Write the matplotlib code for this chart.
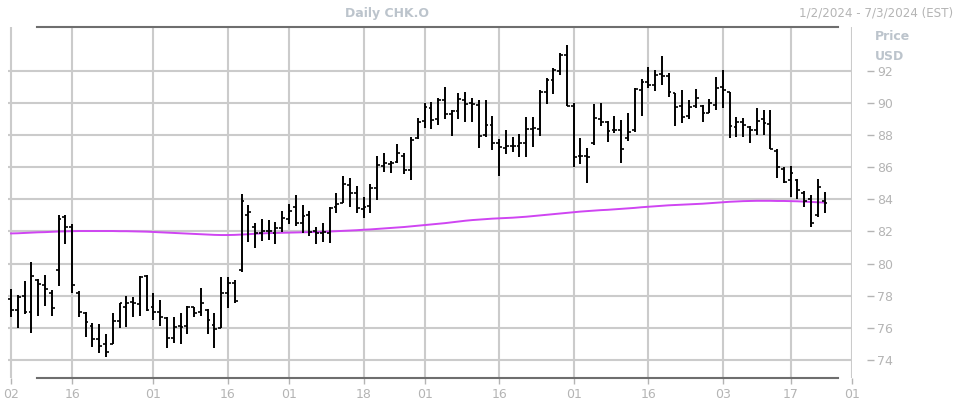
import numpy as np
import pandas as pd
import matplotlib
matplotlib.use('Agg')
import matplotlib.pyplot as plt

plt.rcParams['font.family'] = 'DejaVu Sans'

# trading calendar (NYSE holidays removed)
holidays = ['2024-01-15', '2024-02-19', '2024-03-29', '2024-05-27', '2024-06-19']
tick_dates = ['2024-01-02', '2024-01-16', '2024-02-01', '2024-02-16', '2024-03-01',
              '2024-03-18', '2024-04-01', '2024-04-16', '2024-05-01', '2024-05-16',
              '2024-06-03', '2024-06-17', '2024-07-01']
price_ticks = [74, 76, 78, 80, 82, 84, 86, 88, 90, 92]

# daily OHLC, CHK.O
open_ = [77.8, 77.1, 78.0, 77.0, 79.0, 78.7, 78.2, 79.6, 82.9, 82.3,
         78.2, 76.9, 76.1, 75.3, 75.0, 75.0, 76.4, 77.3, 77.6, 77.5,
         79.2, 77.3, 77.0, 76.6, 75.4, 76.1, 76.1, 77.3, 77.0, 77.1,
         76.2, 76.0, 78.2, 78.8, 79.6, 83.0, 82.3, 81.9, 82.0, 81.9,
         82.2, 82.8, 83.5, 82.5, 83.0, 82.0, 81.9, 81.9, 83.5, 83.8,
         84.9, 84.4, 83.4, 83.6, 84.7, 86.1, 86.2, 86.3, 86.7, 85.8,
         87.8, 88.9, 89.7, 89.0, 90.2, 89.3, 89.5, 90.2, 90.0, 89.9,
         88.0, 88.6, 87.5, 87.2, 87.3, 87.3, 87.5, 88.4, 88.4, 90.7,
         91.4, 92.0, 93.0, 89.8, 86.7, 86.7, 87.5, 89.0, 88.8, 88.3,
         88.3, 87.8, 88.3, 90.8, 91.3, 91.1, 91.8, 91.7, 90.6, 89.8,
         89.2, 89.8, 89.8, 89.4, 89.9, 91.0, 90.7, 88.5, 88.8, 88.5,
         88.3, 89.0, 88.7, 87.0, 85.9, 85.2, 85.2, 84.4, 84.0, 83.0,
         83.9]
high = [78.40, 78.05, 78.94, 80.08, 79.04, 79.29, 78.36, 83.03, 83.03, 82.45,
        78.32, 77.01, 76.28, 76.24, 75.60, 76.91, 77.57, 77.99, 77.94, 79.23,
        79.29, 78.15, 77.74, 76.70, 76.70, 76.91, 77.36, 77.32, 78.50, 77.15,
        76.91, 79.15, 79.15, 78.98, 84.34, 83.65, 82.51, 82.76, 82.72, 82.57,
        83.30, 83.73, 84.27, 83.62, 83.29, 82.26, 82.51, 83.55, 84.42, 85.48,
        85.35, 84.83, 84.17, 84.96, 86.70, 86.91, 86.39, 87.43, 86.91, 87.91,
        89.05, 90.02, 90.09, 90.29, 91.02, 89.57, 90.60, 90.71, 90.29, 90.19,
        90.19, 89.19, 87.74, 88.32, 87.91, 88.07, 89.15, 89.11, 90.81, 91.54,
        92.16, 93.10, 93.61, 89.98, 87.80, 87.18, 89.94, 90.02, 88.90, 89.19,
        88.94, 89.36, 90.92, 91.48, 92.26, 92.06, 92.93, 91.89, 90.60, 90.81,
        90.19, 90.85, 89.88, 90.23, 91.64, 92.06, 90.71, 89.15, 89.05, 88.57,
        89.67, 89.57, 89.57, 87.12, 86.00, 86.08, 85.25, 84.50, 84.27, 85.25,
        84.48]
low = [76.66, 75.97, 76.86, 75.70, 76.76, 77.36, 76.76, 78.63, 81.20, 78.19,
       76.70, 75.45, 74.83, 74.46, 74.21, 74.98, 75.97, 76.08, 76.70, 76.74,
       77.05, 76.49, 76.14, 74.73, 75.04, 74.98, 75.60, 76.70, 76.74, 75.60,
       74.73, 75.97, 77.22, 77.57, 79.50, 81.37, 80.95, 81.41, 81.47, 81.20,
       81.99, 82.44, 82.37, 81.92, 81.70, 81.22, 81.37, 81.26, 83.13, 83.76,
       83.55, 83.13, 82.82, 83.13, 83.96, 85.73, 85.62, 86.25, 85.56, 85.21,
       87.74, 88.42, 88.36, 88.63, 88.99, 87.95, 88.99, 88.84, 88.84, 87.18,
       87.91, 87.08, 85.46, 86.81, 86.97, 86.62, 86.62, 87.24, 87.95, 89.94,
       90.54, 91.75, 89.82, 86.00, 86.20, 85.00, 87.39, 88.57, 87.59, 88.11,
       86.25, 87.66, 88.22, 89.19, 90.96, 90.77, 91.12, 90.40, 88.57, 88.78,
       88.99, 89.67, 88.84, 89.40, 89.57, 89.67, 87.84, 87.91, 87.91, 87.49,
       88.01, 88.01, 87.12, 85.31, 85.00, 84.13, 84.00, 83.50, 82.30, 82.92,
       83.17]
close = [77.11, 77.95, 77.00, 79.20, 78.73, 78.40, 77.26, 82.80, 82.30, 78.67,
         77.01, 76.35, 75.30, 74.90, 74.50, 76.45, 77.53, 77.55, 77.53, 79.15,
         77.11, 77.01, 76.66, 75.35, 76.08, 76.08, 77.32, 76.91, 77.53, 76.49,
         75.93, 78.15, 78.80, 77.69, 83.92, 83.24, 81.89, 82.00, 82.00, 82.20,
         82.82, 83.30, 82.51, 82.95, 81.95, 81.89, 81.99, 83.49, 83.71, 84.96,
         84.42, 83.44, 83.55, 84.69, 86.14, 86.29, 86.25, 86.87, 85.83, 87.70,
         88.84, 89.75, 88.94, 90.20, 89.32, 89.50, 90.23, 89.94, 89.95, 87.97,
         88.60, 87.49, 87.24, 87.30, 87.32, 87.53, 88.36, 88.45, 90.71, 91.43,
         92.06, 92.99, 89.82, 86.66, 86.70, 86.62, 89.05, 88.84, 88.28, 88.32,
         87.12, 88.22, 90.85, 91.30, 91.12, 91.75, 91.68, 90.71, 89.77, 89.15,
         89.77, 90.29, 89.36, 89.98, 90.92, 90.80, 88.57, 88.84, 88.63, 88.32,
         88.90, 88.74, 87.12, 86.04, 85.10, 85.62, 84.59, 83.90, 82.51, 84.80,
         83.80]
# moving average (magenta line)
ma = [81.88, 81.89, 81.91, 81.93, 81.95, 81.96, 81.98, 82.00, 82.01, 82.02,
      82.03, 82.03, 82.03, 82.03, 82.03, 82.03, 82.02, 82.02, 82.01, 82.00,
      81.99, 81.97, 81.95, 81.93, 81.91, 81.89, 81.87, 81.85, 81.83, 81.81,
      81.79, 81.78, 81.78, 81.79, 81.81, 81.83, 81.86, 81.88, 81.90, 81.91,
      81.92, 81.93, 81.94, 81.95, 81.96, 81.97, 81.98, 82.00, 82.02, 82.04,
      82.06, 82.08, 82.11, 82.13, 82.16, 82.19, 82.22, 82.25, 82.28, 82.32,
      82.36, 82.40, 82.44, 82.48, 82.52, 82.57, 82.62, 82.67, 82.71, 82.74,
      82.77, 82.80, 82.82, 82.84, 82.86, 82.89, 82.92, 82.96, 83.00, 83.04,
      83.08, 83.12, 83.16, 83.20, 83.24, 83.27, 83.30, 83.33, 83.35, 83.38,
      83.41, 83.44, 83.47, 83.51, 83.54, 83.57, 83.60, 83.63, 83.65, 83.67,
      83.69, 83.71, 83.73, 83.76, 83.79, 83.82, 83.85, 83.87, 83.89, 83.90,
      83.91, 83.91, 83.91, 83.90, 83.90, 83.89, 83.88, 83.86, 83.84, 83.82,
      83.80]

dates = pd.bdate_range('2024-01-02', '2024-07-03').drop(pd.to_datetime(holidays))
tick_pos = dates.get_indexer(pd.to_datetime(tick_dates))
tick_labels = [pd.Timestamp(d).strftime('%d') for d in tick_dates]
x = np.arange(len(close))

W, H = 959, 403
fig = plt.figure(figsize=(W / 100, H / 100), dpi=100)
ax = fig.add_axes([8 / W, 25 / H, 844 / W, 351 / H])

grid_c = '#cbcbcb'
text_c = '#b4b4b4'
head_c = '#bcc4cc'

ax.plot(x, ma, color='#cf45f2', lw=1.4, zorder=2)
ax.vlines(x, low, high, color='black', lw=1.4, zorder=3)
ax.hlines(open_, x - 0.42, x, color='black', lw=1.2, zorder=3)
ax.hlines(close, x, x + 0.42, color='black', lw=1.2, zorder=3)

ax.set_xlim(-0.45, 124.05)
ax.set_ylim(72.88, 94.73)

ax.set_xticks(tick_pos)
ax.set_xticklabels(tick_labels)
ax.set_yticks(price_ticks)
ax.yaxis.tick_right()
ax.grid(True, color=grid_c, lw=1.5)
ax.set_axisbelow(True)

for s in ['left', 'right']:
    ax.spines[s].set_visible(False)
ax.spines['right'].set_visible(True)
ax.spines['right'].set_color('none')
ax.spines['right'].set_position(('outward', 11))
for s in ['top', 'bottom']:
    ax.spines[s].set_color('#6e6e6e')
    ax.spines[s].set_linewidth(1.5)
    ax.spines[s].set_bounds(3.8, 122.0)

ax.tick_params(axis='y', colors=text_c, labelsize=9, length=5, width=1, pad=2)
ax.tick_params(axis='x', colors=text_c, labelsize=9, length=4, width=1, pad=3)

fig.text(387 / W, 1 - 13 / H, 'Daily CHK.O', ha='center', va='center',
         fontsize=9, fontweight='bold', color=head_c)
fig.text(953 / W, 1 - 13 / H, '1/2/2024 - 7/3/2024 (EST)', ha='right', va='center',
         fontsize=8.6, color=text_c)
fig.text(875 / W, 1 - 36 / H, 'Price', ha='left', va='center',
         fontsize=9, fontweight='bold', color=head_c)
fig.text(875 / W, 1 - 57 / H, 'USD', ha='left', va='center',
         fontsize=9, fontweight='bold', color=head_c)

fig.savefig('out.png', dpi=100)
